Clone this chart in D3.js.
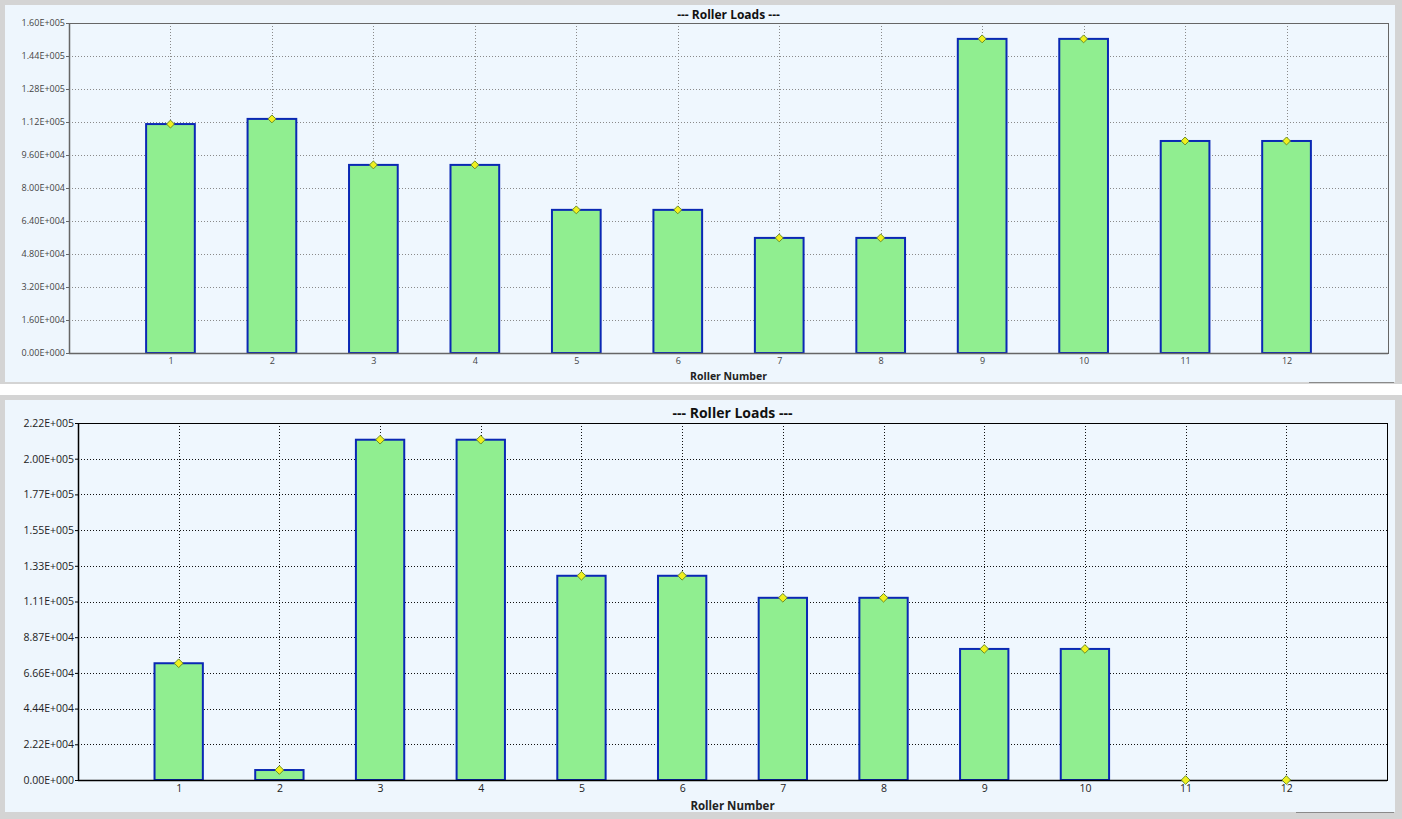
<!DOCTYPE html>
<html><head><meta charset="utf-8">
<script src="https://cdn.jsdelivr.net/npm/d3@7"></script>
<style>
html,body{margin:0;padding:0;background:#fff;overflow:hidden}
svg{display:block}
text{font-family:"Segoe UI","Open Sans","Noto Sans",sans-serif}
</style></head><body>
<svg id="c" width="1402" height="819"></svg>
<script>
const categories = ["1","2","3","4","5","6","7","8","9","10","11","12"];
const topValues = [111000, 113500, 91200, 91200, 69400, 69400, 55800, 55800, 152300, 152300, 102800, 102800];
const topTicks = [0, 16000, 32000, 48000, 64000, 80000, 96000, 112000, 128000, 144000, 160000];
const topTickLabels = ["0.00E+000","1.60E+004","3.20E+004","4.80E+004","6.40E+004","8.00E+004","9.60E+004","1.12E+005","1.28E+005","1.44E+005","1.60E+005"];
const bottomValues = [72600, 6200, 211600, 211600, 127000, 127000, 113300, 113300, 81500, 81500, 0, 0];
const bottomTicks = [0, 22200, 44400, 66600, 88800, 111000, 133200, 155400, 177600, 199800, 222000];
const bottomTickLabels = ["0.00E+000","2.22E+004","4.44E+004","6.66E+004","8.87E+004","1.11E+005","1.33E+005","1.55E+005","1.77E+005","2.00E+005","2.22E+005"];
const chartTitle = "--- Roller Loads ---";
const xTitle = "Roller Number";

const svg = d3.select("#c");
svg.append("rect").attr("x",0).attr("y",0).attr("width",1402).attr("height",384).attr("fill","#d4d4d4");
svg.append("rect").attr("x",0).attr("y",384).attr("width",1402).attr("height",11).attr("fill","#ffffff");
svg.append("rect").attr("x",0).attr("y",395).attr("width",1402).attr("height",424).attr("fill","#d4d4d4");

function panel(cfg){
  svg.append("rect").attr("x",cfg.px).attr("y",cfg.py).attr("width",cfg.pw).attr("height",cfg.ph).attr("fill","#eef6fd");
  svg.append("line").attr("x1",cfg.boxX).attr("x2",1394).attr("y1",cfg.py+cfg.ph+0.5).attr("y2",cfg.py+cfg.ph+0.5)
     .attr("stroke","#8a8a8a").attr("stroke-width",1);
  const g = svg.append("g");
  const x = d3.scaleLinear().domain([0, categories.length+1]).range([cfg.l, cfg.r]);
  const y = d3.scaleLinear().domain([0, cfg.max]).range([cfg.b, cfg.t]);
  const step = x(1)-x(0);
  const bw = step*0.48;
  g.append("rect").attr("x",cfg.l).attr("y",cfg.t).attr("width",cfg.r-cfg.l).attr("height",cfg.b-cfg.t).attr("fill","#eff7fe");
  g.selectAll(".hg").data(cfg.ticks.slice(1,-1)).enter().append("line")
   .attr("x1",cfg.l).attr("x2",cfg.r).attr("y1",d=>Math.round(y(d))+0.5).attr("y2",d=>Math.round(y(d))+0.5)
   .attr("stroke",cfg.gridColor).attr("stroke-width",1).attr("stroke-dasharray","1,2");
  g.selectAll(".vg").data(categories).enter().append("line")
   .attr("x1",(d,i)=>Math.round(x(i+1))+0.5).attr("x2",(d,i)=>Math.round(x(i+1))+0.5).attr("y1",cfg.t).attr("y2",cfg.b)
   .attr("stroke",cfg.gridColor).attr("stroke-width",1).attr("stroke-dasharray","1,2");
  g.selectAll(".bar").data(cfg.values).enter().append("rect")
   .attr("x",(d,i)=>x(i+1)-bw/2).attr("y",d=>y(d)).attr("width",bw).attr("height",d=>cfg.b-y(d))
   .attr("fill","#90ee90").attr("stroke","#0a28b4").attr("stroke-width",2)
   .attr("display",d=>d>0?null:"none");
  g.append("rect").attr("x",cfg.l+0.5).attr("y",cfg.t+0.5).attr("width",cfg.r-cfg.l).attr("height",cfg.b-cfg.t)
   .attr("fill","none").attr("stroke",cfg.axisColor).attr("stroke-width",1);
  g.append("line").attr("x1",cfg.l).attr("x2",cfg.r).attr("y1",cfg.b+0.5).attr("y2",cfg.b+0.5).attr("stroke",cfg.axisColor).attr("stroke-width",1.5);
  g.append("line").attr("x1",cfg.l+0.5).attr("x2",cfg.l+0.5).attr("y1",cfg.t).attr("y2",cfg.b).attr("stroke",cfg.axisColor).attr("stroke-width",1.5);
  const sym = d3.symbol().type(d3.symbolDiamond2).size(cfg.mk);
  g.selectAll(".mk").data(cfg.values).enter().append("path")
   .attr("d",sym).attr("transform",(d,i)=>`translate(${x(i+1)},${y(d)})`)
   .attr("fill","#f0f020").attr("stroke","#6b8e23").attr("stroke-width",1);
  const ya = d3.axisLeft(y).tickValues(cfg.ticks).tickFormat((d,i)=>cfg.tickLabels[i]).tickSize(3).tickPadding(1);
  const yg = g.append("g").attr("transform",`translate(${cfg.l},0)`).call(ya);
  yg.select(".domain").remove();
  yg.selectAll("line").attr("stroke",cfg.axisColor);
  yg.selectAll("text").attr("font-size",cfg.fs).attr("fill",cfg.textColor);
  const xa = d3.axisBottom(x).tickValues(d3.range(1,categories.length+1)).tickFormat(d=>categories[d-1]).tickSize(0).tickPadding(cfg.xpad);
  const xg = g.append("g").attr("transform",`translate(0,${cfg.b})`).call(xa);
  xg.select(".domain").remove();
  xg.selectAll("text").attr("font-size",cfg.fs).attr("fill",cfg.textColor);
  g.append("text").attr("x",(cfg.l+cfg.r)/2).attr("y",cfg.titleY).attr("text-anchor","middle")
   .attr("font-size",cfg.titleFs).attr("font-weight","bold").attr("fill","#111").text(chartTitle);
  g.append("text").attr("x",(cfg.l+cfg.r)/2).attr("y",cfg.xTitleY).attr("text-anchor","middle")
   .attr("font-size",cfg.xTitleFs).attr("font-weight","bold").attr("fill","#222").text(xTitle);
}

panel({px:5,py:5,pw:1390,ph:377,boxX:1309,l:69,r:1388,t:23,b:353,max:160000,values:topValues,ticks:topTicks,tickLabels:topTickLabels,
  gridColor:"#8a8a8a",axisColor:"#666",textColor:"#444",fs:9,xpad:5,titleY:19,titleFs:12,xTitleY:380,xTitleFs:10.5,mk:40});
panel({px:5,py:400,pw:1390,ph:412,boxX:1296,l:78,r:1387,t:423,b:780,max:222000,values:bottomValues,ticks:bottomTicks,tickLabels:bottomTickLabels,
  gridColor:"#111",axisColor:"#000",textColor:"#222",fs:10.5,xpad:5,titleY:418,titleFs:14,xTitleY:810,xTitleFs:11.5,mk:48});
</script>
</body></html>
